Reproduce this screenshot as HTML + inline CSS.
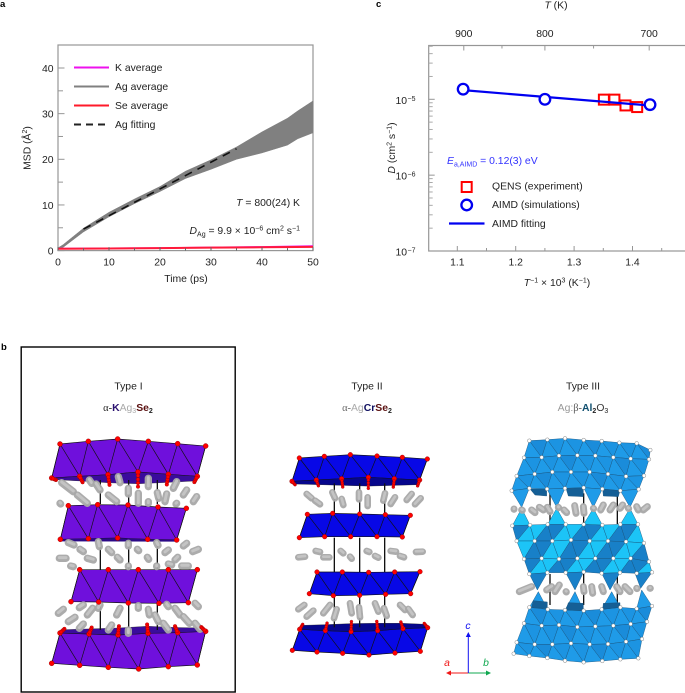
<!DOCTYPE html>
<html lang="en">
<head>
<meta charset="utf-8">
<title>MSD, diffusivity and crystal structures</title>
<style>
html,body{margin:0;padding:0;background:#fff;width:685px;height:693px;overflow:hidden}
svg{display:block;font-family:"Liberation Sans",sans-serif;font-size:10.4px;fill:#222}
text{stroke:none}
.it{font-style:italic}
.b{font-weight:bold}
</style>
</head>
<body>
<svg id="root" width="685" height="693" viewBox="0 0 685 693" xmlns="http://www.w3.org/2000/svg">
  <text x="0" y="7" class="b" font-size="9.5" fill="#000">a</text>
  <text x="1" y="350" class="b" font-size="9.5" fill="#000">b</text>
  <text x="376" y="7" class="b" font-size="9.5" fill="#000">c</text>

  <g id="panelA"></g>
  <text x="186" y="282" text-anchor="middle">Time (ps)</text>
  <text transform="translate(30.5,148) rotate(-90)" text-anchor="middle">MSD (Å<tspan dy="-3.5" font-size="7">2</tspan><tspan dy="3.5">)</tspan></text>
  <text x="300" y="206" text-anchor="end"><tspan class="it">T</tspan> = 800(24) K</text>
  <text x="300" y="234" text-anchor="end"><tspan class="it">D</tspan><tspan dy="2.5" font-size="7">Ag</tspan><tspan dy="-2.5"> = 9.9 × 10</tspan><tspan dy="-3.5" font-size="7">−6</tspan><tspan dy="3.5"> cm</tspan><tspan dy="-3.5" font-size="7">2</tspan><tspan dy="3.5"> s</tspan><tspan dy="-3.5" font-size="7">−1</tspan></text>

  <g id="legendA">
    <line x1="74" x2="109" y1="67.5" y2="67.5" stroke="#ee11ee" stroke-width="1.9"/>
    <text x="115" y="71">K average</text>
    <line x1="74" x2="109" y1="86.5" y2="86.5" stroke="#808080" stroke-width="1.9"/>
    <text x="115" y="90">Ag average</text>
    <line x1="74" x2="109" y1="105.5" y2="105.5" stroke="#ff1a2a" stroke-width="1.9"/>
    <text x="115" y="109">Se average</text>
    <line x1="74" x2="109" y1="124.5" y2="124.5" stroke="#222" stroke-width="1.9" stroke-dasharray="7 5"/>
    <text x="115" y="128">Ag fitting</text>
  </g>

  <g id="panelC"></g>
  <text x="556" y="8.5" text-anchor="middle"><tspan class="it">T</tspan> (K)</text>
  <text x="557" y="286" text-anchor="middle"><tspan class="it">T</tspan><tspan dy="-3.5" font-size="7">−1</tspan><tspan dy="3.5"> × 10</tspan><tspan dy="-3.5" font-size="7">3</tspan><tspan dy="3.5"> (K</tspan><tspan dy="-3.5" font-size="7">−1</tspan><tspan dy="3.5">)</tspan></text>
  <text transform="translate(395,148) rotate(-90)" text-anchor="middle"><tspan class="it">D</tspan> (cm<tspan dy="-3.5" font-size="7">2</tspan><tspan dy="3.5"> s</tspan><tspan dy="-3.5" font-size="7">−1</tspan><tspan dy="3.5">)</tspan></text>
  <text x="447" y="164" fill="#3333ff" style="fill:#3333ff"><tspan class="it">E</tspan><tspan dy="2.5" font-size="7">a,AIMD</tspan><tspan dy="-2.5"> = 0.12(3) eV</tspan></text>
  <g>
    <rect x="461.7" y="182" width="10" height="10" fill="none" stroke="#f00" stroke-width="2"/>
    <text x="492" y="189.5">QENS (experiment)</text>
    <circle cx="466.7" cy="205" r="5.3" fill="#fff" stroke="#0000f0" stroke-width="2.3"/>
    <text x="492" y="208">AIMD (simulations)</text>
    <line x1="449" x2="484.5" y1="223.5" y2="223.5" stroke="#0000f0" stroke-width="2.2"/>
    <text x="492" y="227">AIMD fitting</text>
  </g>

  <rect x="21.2" y="347" width="214" height="345" fill="none" stroke="#000" stroke-width="1.4"/>
  <text x="128.5" y="389.5" text-anchor="middle">Type I</text>
  <text x="128" y="411" text-anchor="middle"><tspan font-family="Liberation Serif">α-</tspan><tspan class="b" fill="#2a1070" style="fill:#2a1070">K</tspan><tspan fill="#aaa" style="fill:#aaa">Ag</tspan><tspan fill="#aaa" style="fill:#aaa" dy="2" font-size="7">3</tspan><tspan class="b" dy="-2" fill="#5a1010" style="fill:#5a1010">Se</tspan><tspan class="b" dy="2" font-size="7" fill="#222">2</tspan></text>
  <text x="367" y="389.5" text-anchor="middle">Type II</text>
  <text x="367" y="411" text-anchor="middle"><tspan font-family="Liberation Serif" fill="#666" style="fill:#666">α-</tspan><tspan fill="#aaa" style="fill:#aaa">Ag</tspan><tspan class="b" fill="#101060" style="fill:#101060">Cr</tspan><tspan class="b" fill="#5a1010" style="fill:#5a1010">Se</tspan><tspan class="b" dy="2" font-size="7">2</tspan></text>
  <text x="583" y="389.5" text-anchor="middle">Type III</text>
  <text x="583" y="411" text-anchor="middle"><tspan fill="#999" style="fill:#999">Ag:</tspan><tspan font-family="Liberation Serif" fill="#555" style="fill:#555">β-</tspan><tspan class="b" fill="#105070" style="fill:#105070">Al</tspan><tspan class="b" dy="2" font-size="7">2</tspan><tspan dy="-2" fill="#333" style="fill:#333">O</tspan><tspan dy="2" font-size="7">3</tspan></text>

  <g id="typeI" transform="translate(0,340) scale(.33333)"></g>
  <g id="typeII" transform="translate(270,370) scale(.33333)"></g>
  <g id="typeIII" transform="translate(440,370) scale(.33333)"></g>

  <g>
    <line x1="468.3" y1="673" x2="449" y2="673" stroke="#f01818" stroke-width="1"/>
    <polygon points="446,673 451,670.5 451,675.5" fill="#f01818"/>
    <line x1="468.3" y1="673" x2="488" y2="673" stroke="#10a850" stroke-width="1"/>
    <polygon points="491,673 486,670.5 486,675.5" fill="#10a850"/>
    <line x1="468.3" y1="673" x2="468.3" y2="635" stroke="#1010f0" stroke-width="1"/>
    <polygon points="468.3,632 465.8,637 470.8,637" fill="#1010f0"/>
    <text x="447" y="666" text-anchor="middle" class="it" fill="#f01818" style="fill:#f01818">a</text>
    <text x="486" y="666" text-anchor="middle" class="it" fill="#10a850" style="fill:#10a850">b</text>
    <text x="468" y="629" text-anchor="middle" class="it" fill="#1010f0" style="fill:#1010f0">c</text>
  </g>
</svg>

<script>
/* ---------- panel a data ---------- */
var timeValues   = [0, 1, 5, 10, 15, 20, 25, 30, 35, 40, 45, 47, 50];
var agUpper      = [0.6, 1.3, 4.9, 8.4, 11.3, 14.05, 17.4, 19.9, 22.7, 26.0, 29.0, 30.6, 32.8];
var agLower      = [0.2, 0.7, 4.1, 7.4, 10.3, 12.95, 15.8, 17.8, 20.0, 21.4, 23.1, 24.5, 25.8];
var seTime       = [0, 1, 10, 20, 30, 40, 50];
var seValues     = [0.4, 0.42, 0.46, 0.55, 0.65, 0.72, 0.82];
var kValues      = [0.4, 0.45, 0.5, 0.58, 0.7, 0.8, 0.98];
var fitTime      = [5, 35];
var fitMsd       = [4.7, 22.3];
var msdXTicks    = [0, 10, 20, 30, 40, 50];
var msdXMinor    = [5, 15, 25, 35, 45];
var msdYTicks    = [0, 10, 20, 30, 40];
var msdYMinor    = [5, 15, 25, 35];

/* ---------- panel c data ---------- */
var qensInverseT  = [1.351, 1.369, 1.388, 1.408];
var qensD         = [0.99e-5, 0.99e-5, 0.83e-5, 0.79e-5];
var aimdInverseT  = [1.11, 1.25, 1.43];
var aimdD         = [1.36e-5, 1.0e-5, 0.85e-5];
var fitInverseT   = [1.11, 1.42];
var fitD          = [1.32e-5, 0.84e-5];
var invXTicks     = [1.1, 1.2, 1.3, 1.4];
var invXMinor     = [1.15, 1.25, 1.35, 1.45];
var topTempTicks  = [900, 800, 700];
var topTempMinor  = [850, 750];
var logDecades    = [-7, -6, -5];
var logMinorMults = [2, 3, 4, 5, 6, 7, 8, 9];

var NS = 'http://www.w3.org/2000/svg';
function mk(tag, attrs, parent) {
  var n = document.createElementNS(NS, tag);
  for (var k in attrs) n.setAttribute(k, attrs[k]);
  parent.appendChild(n);
  return n;
}
var gridColor = '#969696';

/* panel a */
(function () {
  var g = document.getElementById('panelA');
  var L = 58, R = 313, T = 45, B = 250.6;
  function x(v) { return L + (R - L) * v / 50; }
  function y(v) { return B - v * 4.565; }
  function pts(xs, ys) { return xs.map(function (d, i) { return x(d).toFixed(1) + ',' + y(ys[i]).toFixed(1); }).join(' '); }

  var frame = mk('rect', {x: L, y: T, width: R - L, height: B - T, fill: '#fff', stroke: gridColor, 'stroke-width': 1.2}, g);
  
  

  var band = mk('polygon', {points: pts(timeValues, agUpper) + ' ' + pts(timeValues.slice().reverse(), agLower.slice().reverse()), fill: '#808080', stroke: '#808080', 'stroke-width': .5}, g);
  
  

  var k = mk('polyline', {points: pts(seTime, kValues), fill: 'none', stroke: '#ee11ee', 'stroke-width': 1.6}, g);
  
  

  var se = mk('polyline', {points: pts(seTime, seValues), fill: 'none', stroke: '#ff1a3a', 'stroke-width': 2}, g);
  
  

  var fit = mk('polyline', {points: pts(fitTime, fitMsd), fill: 'none', stroke: '#111', 'stroke-width': 1.6, 'stroke-dasharray': '8 6.3'}, g);
  
  

  msdXTicks.forEach(function (v) {
    var t = mk('line', {x1: x(v), x2: x(v), y1: B, y2: B - 3.5, stroke: '#666'}, g);
    
    
    var l = mk('text', {x: x(v), y: 265.5, 'text-anchor': 'middle'}, g);
    l.textContent = v;
    
    
  });
  msdXMinor.forEach(function (v) {
    var t = mk('line', {x1: x(v), x2: x(v), y1: B, y2: B - 2.5, stroke: '#666'}, g);
    
    
  });
  msdYTicks.forEach(function (v) {
    var t = mk('line', {x1: L, x2: L + 6.5, y1: y(v), y2: y(v), stroke: gridColor}, g);
    
    
    var l = mk('text', {x: 53.5, y: y(v) + 3.8, 'text-anchor': 'end'}, g);
    l.textContent = v;
    
    
  });
  msdYMinor.forEach(function (v) {
    var t = mk('line', {x1: L, x2: L + 5, y1: y(v), y2: y(v), stroke: gridColor}, g);
    
    
  });
})();

/* panel c */
(function () {
  var g = document.getElementById('panelC');
  var L = 428.7, R = 685, T = 45.5, B = 251;
  function x(v) { return 457.3 + (v - 1.1) * 584; }
  function y(v) { return B - (Math.log10(v) + 7) * 75.85; }

  var frame = mk('rect', {x: L, y: T, width: R - L + 3, height: B - T, fill: '#fff', stroke: gridColor, 'stroke-width': 1.2}, g);
  
  

  invXTicks.forEach(function (v) {
    var t = mk('line', {x1: x(v), x2: x(v), y1: B, y2: B - 5, stroke: gridColor}, g);
    
    
    var l = mk('text', {x: x(v), y: 265.5, 'text-anchor': 'middle'}, g);
    l.textContent = v.toFixed(1);
    
    
  });
  invXMinor.forEach(function (v) {
    var t = mk('line', {x1: x(v), x2: x(v), y1: B, y2: B - 3, stroke: gridColor}, g);
    
    
  });
  topTempTicks.forEach(function (v) {
    var px = x(1000 / v);
    var t = mk('line', {x1: px, x2: px, y1: T, y2: T + 5, stroke: gridColor}, g);
    
    
    var l = mk('text', {x: px, y: 37, 'text-anchor': 'middle'}, g);
    l.textContent = v;
    
    
  });
  topTempMinor.forEach(function (v) {
    var px = x(1000 / v);
    var t = mk('line', {x1: px, x2: px, y1: T, y2: T + 3, stroke: gridColor}, g);
    
    
  });
  logDecades.forEach(function (d) {
    var py = y(Math.pow(10, d));
    var t = mk('line', {x1: L, x2: L + 6, y1: py, y2: py, stroke: gridColor}, g);
    
    
    var l = mk('text', {x: 407, y: py + 4.5, 'text-anchor': 'end'}, g);
    l.textContent = '10';
    
    
    var s = mk('text', {x: 407.5, y: py + 1.5, 'font-size': 7}, g);
    s.textContent = '−' + Math.abs(d);
    
    
    logMinorMults.forEach(function (m) {
      var v = m * Math.pow(10, d), p = y(v);
      if (p < T) return;
      var mt = mk('line', {x1: L, x2: L + 4, y1: p, y2: p, stroke: '#aaa'}, g);
      
      
    });
  });

  qensInverseT.forEach(function (v, i) {
    var s = mk('rect', {x: x(v) - 5, y: y(qensD[i]) - 5, width: 10, height: 10, fill: '#fff', stroke: '#f00', 'stroke-width': 2}, g);
    
    
  });
  var fit = mk('line', {x1: x(fitInverseT[0]), y1: y(fitD[0]), x2: x(fitInverseT[1]), y2: y(fitD[1]), stroke: '#0000f0', 'stroke-width': 2.2}, g);
  
  
  aimdInverseT.forEach(function (v, i) {
    var c = mk('circle', {cx: x(v), cy: y(aimdD[i]), r: 5.3, fill: '#fff', stroke: '#0000f0', 'stroke-width': 2.3}, g);
    
    
  });
})();

/* ---------- crystal structures (zoomed-crop coordinates) ---------- */
function drawSheet(g, top, bot, fill) {
  var out = top.concat(bot.slice().reverse()).map(function (p) { return p.join(','); }).join(' ');
  var face = mk('polygon', {points: out, fill: fill, stroke: '#111', 'stroke-width': 2}, g);
  
  
  var d = '';
  top.forEach(function (p, i) {
    if (bot[i]) d += 'M' + p + 'L' + bot[i];
    if (bot[i + 1]) d += 'M' + p + 'L' + bot[i + 1];
  });
  var edges = mk('path', {d: d, fill: 'none', stroke: '#111', 'stroke-width': 2}, g);
  
  
}
/* perspective depth of a sheet edge: offsets shrink away from the centre column */
function depthOffset(p, d) {
  var off = Math.abs(p[0] - d.cx);
  return [(d.cx - p[0]) * d.kx, d.sign * Math.max(d.dy - off * d.fall, 6)];
}
function drawBand(g, row, d, fill) {
  var far = row.map(function (p) {
    var o = depthOffset(p, d);
    return [p[0] + o[0] * .8, p[1] + o[1] * .8];
  });
  var pts = row.concat(far.reverse()).map(function (q) { return q.join(','); }).join(' ');
  var b = mk('polygon', {points: pts, fill: fill, stroke: '#111', 'stroke-width': 1}, g);
  
  
}
function drawDepthDots(g, row, d, r) {
  row.forEach(function (p) {
    var o = depthOffset(p, d);
    for (var i = 4; i >= 1; i--) {
      var c = mk('circle', {cx: p[0] + o[0] * i / 4, cy: p[1] + o[1] * i / 4, r: r, fill: '#f00', stroke: '#800', 'stroke-width': 1}, g);
      
      
    }
  });
}
function drawBonds(g, xs, spans) {
  xs.forEach(function (x) {
    spans.forEach(function (s) {
      var l = mk('line', {x1: x, x2: x, y1: s[0], y2: s[1], stroke: '#111', 'stroke-width': 4}, g);
      
      
    });
  });
}
function drawAtoms(g, list, w) {
  list.forEach(function (c) {
    var a = mk('line', {x1: c[0], y1: c[1], x2: c[2], y2: c[3], stroke: '#a8a8a8', 'stroke-width': w, 'stroke-linecap': 'round', opacity: .95}, g);
    
    
    var h = mk('line', {x1: c[0], y1: c[1] - w * .1, x2: c[2], y2: c[3] - w * .1, stroke: '#c4c4c4', 'stroke-width': w * .4, 'stroke-linecap': 'round'}, g);
    
    
  });
}
function drawDots(g, row, fill, stroke, r) {
  row.forEach(function (p) {
    var c = mk('circle', {cx: p[0], cy: p[1], r: r, fill: fill, stroke: stroke, 'stroke-width': 1.2}, g);
    
    
  });
}

/* Type I */
var t1Layers = [
  {t: [[180,312],[265,304],[353,297],[445,304],[533,311],[617,318]], b: [[155,414],[239,409],[324,404],[414,396],[505,403],[592,409]]},
  {t: [[205,497],[293,494],[384,495],[474,501],[559,505]], b: [[181,598],[265,596],[353,594],[443,598],[530,600]]},
  {t: [[239,689],[325,689],[415,689],[505,689],[592,689]], b: [[213,785],[296,786],[385,789],[477,790],[565,788]]},
  {t: [[180,879],[267,882],[354,885],[444,880],[533,878],[617,874]], b: [[155,970],[239,976],[325,982],[416,987],[505,980],[592,975]]}
];
var t1Atoms = [[185,428,220,455],[232,465,262,490],[180,490,182,492],[268,420,275,430],[288,432,300,450],[325,465,350,485],[355,410,360,428],[385,445,385,462],[415,460,415,490],[445,415,445,440],[445,485,445,490],[472,458,476,475],[500,462,495,485],[530,425,520,445],[560,450,550,465],[590,470,580,485],[530,490,528,492],
 [205,608,222,615],[240,628,250,635],[262,655,280,660],[178,655,198,655],[212,678,220,680],[295,605,298,620],[325,628,335,638],[352,652,360,660],[385,610,385,618],[385,678,385,680],[412,628,416,632],[442,652,446,658],[470,608,474,616],[470,678,470,680],[505,630,495,638],[533,652,525,660],[560,610,550,618],[595,628,578,635],[565,678,545,678],[505,672,515,675],
 [190,808,175,820],[225,832,205,845],[250,795,238,803],[278,805,262,825],[250,852,238,865],[300,795,295,805],[360,805,350,825],[335,855,325,870],[385,870,385,880],[415,797,415,805],[445,808,448,825],[465,825,475,845],[490,850,505,870],[500,793,505,800],[525,805,540,825],[550,830,568,850],[585,850,600,868],[585,790,595,800]];
/* Type II */
var t2Layers = [
  {t: [[88,264],[163,259],[241,254],[321,258],[397,262],[472,267]], b: [[66,334],[139,330],[215,326],[295,322],[373,326],[449,330]]},
  {t: [[112,433],[188,430],[269,432],[346,434],[421,436]], b: [[88,503],[164,500],[242,500],[321,500],[397,501]]},
  {t: [[141,606],[217,606],[296,607],[374,606],[450,605]], b: [[118,671],[190,677],[269,676],[347,673],[422,671]]},
  {t: [[89,778],[166,782],[243,785],[323,782],[399,776],[473,773]], b: [[67,841],[141,846],[218,850],[297,855],[375,849],[451,844]]}
];
var t2Atoms = [[110,372,125,385],[135,392,150,403],[187,367,195,385],[215,387,220,405],[267,367,267,388],[293,382,293,408],[345,370,340,392],[375,382,362,402],[425,372,410,390],[452,385,435,403],
 [85,562,105,560],[137,543,150,546],[160,562,178,562],[212,543,220,550],[240,560,245,566],[290,543,298,546],[315,558,325,563],[362,543,378,545],[390,558,402,562],[438,546,458,545],
 [85,718,103,705],[110,740,130,722],[160,730,180,705],[192,745,200,718],[240,700,245,730],[267,712,270,742],[315,700,325,725],[342,715,350,738],[390,705,405,720],[415,717,428,735]];
/* Type III */
var t3Rows = [
  [[268,212],[322,209],[375,205],[431,210],[485,213],[538,218],[590,220],[631,240]],
  [[252,263],[305,262],[357,257],[412,256],[466,257],[520,262],[572,266],[627,268]],
  [[230,318],[284,312],[337,306],[393,306],[449,306],[504,312],[558,319],[612,317]],
  [[215,362],[268,355],[321,357],[375,355],[431,353],[487,357],[541,362],[596,358]],
  [[217,467],[270,465],[323,463],[377,463],[431,463],[487,465],[541,463],[594,463]],
  [[230,513],[284,513],[337,513],[393,510],[449,513],[504,513],[558,515],[612,519]],
  [[252,567],[305,565],[357,567],[412,565],[466,565],[520,565],[572,565],[627,575]],
  [[268,612],[322,608],[377,608],[431,606],[485,610],[540,608],[590,610],[636,607]],
  [[268,712],[323,718],[375,720],[431,722],[485,718],[541,712],[590,716],[636,708]],
  [[252,760],[305,767],[357,765],[412,771],[466,769],[520,767],[572,762],[621,755]],
  [[230,817],[284,823],[337,823],[393,820],[449,823],[504,822],[558,815],[606,807]],
  [[221,851],[268,858],[322,864],[375,872],[431,877],[487,873],[541,868],[595,865]]
];
var t3Strips = [[0,1,'a'],[1,2,'a'],[2,3,'a'],[4,5,'m'],[5,6,'m'],[6,7,'m'],[8,9,'a'],[9,10,'a'],[10,11,'a']];
var t3Hourglass = [
  {p: [[215,362],[268,355],[245,412]], c: '#1f9be8'},
  {p: [[321,357],[375,355],[350,412]], c: '#1f9be8'},
  {p: [[431,353],[487,357],[460,412]], c: '#1f9be8'},
  {p: [[541,362],[596,358],[570,412]], c: '#1f9be8'},
  {p: [[217,467],[270,465],[245,415]], c: '#1cc4f7'},
  {p: [[323,463],[377,463],[350,415]], c: '#1cc4f7'},
  {p: [[431,463],[487,465],[460,415]], c: '#1cc4f7'},
  {p: [[541,463],[594,463],[570,415]], c: '#1cc4f7'},
  {p: [[268,612],[322,608],[292,660]], c: '#1880c8'},
  {p: [[377,608],[431,606],[405,660]], c: '#1880c8'},
  {p: [[485,610],[540,608],[510,660]], c: '#1880c8'},
  {p: [[585,610],[636,607],[602,655]], c: '#1880c8'},
  {p: [[268,712],[323,718],[295,665]], c: '#1f9be8'},
  {p: [[375,720],[431,722],[405,665]], c: '#1f9be8'},
  {p: [[485,718],[541,712],[515,665]], c: '#1f9be8'},
  {p: [[590,716],[636,708],[605,660]], c: '#1f9be8'},
  {p: [[270,357],[320,357],[320,378],[285,375]], c: '#155f96'},
  {p: [[378,355],[430,353],[430,380],[385,378]], c: '#155f96'},
  {p: [[488,357],[540,362],[535,380],[490,378]], c: '#155f96'},
  {p: [[275,712],[322,716],[322,696],[280,692]], c: '#155f96'},
  {p: [[378,720],[430,722],[430,700],[385,698]], c: '#155f96'},
  {p: [[488,718],[540,712],[540,698],[490,700]], c: '#155f96'}
];
var t3Atoms = [[222,417,222,418],[245,420,247,421],[275,420,285,428],[298,412,310,420],[322,412,330,425],[355,412,356,413],[372,420,380,428],[404,407,408,430],[430,410,432,430],[460,415,461,416],[482,420,490,405],[510,420,520,405],[540,415,548,405],[565,415,566,416],[590,410,595,420],[610,420,622,410],
 [238,665,275,650],[320,660,335,650],[345,665,358,645],[378,665,379,666],[430,650,432,665],[455,650,458,670],[485,650,490,665],[530,650,540,665],[555,650,570,665],[590,655,591,656],[630,655,631,655]];

(function () {
  var g1 = document.getElementById('typeI');
  var d1a = {cx: 414, dy: 44, fall: .15, kx: .05, sign: 1};
  var d1b = {cx: 400, dy: 30, fall: .08, kx: .06, sign: -1};
  t1Layers.forEach(function (l) { drawSheet(g1, l.t, l.b, '#6f10dc'); });
  drawBand(g1, t1Layers[0].b, d1a, '#3a0c9c');
  drawBand(g1, t1Layers[3].t, d1b, '#3a0c9c');
  var thin = mk('polygon', {points: t1Layers[1].b.concat([[530,605],[181,604]]).join(' '), fill: '#2c0a86'}, g1);
  
  
  drawBonds(g1, [301,386,472], [[420,492],[600,690],[790,870]]);
  drawAtoms(g1, t1Atoms, 22);
  t1Layers.forEach(function (l) { drawDots(g1, l.t, '#f00', '#800', 7.5); drawDots(g1, l.b, '#f00', '#800', 7.5); });
  drawDepthDots(g1, t1Layers[0].b, d1a, 5.5);
  drawDepthDots(g1, t1Layers[3].t, d1b, 5.5);

  var g2 = document.getElementById('typeII');
  var d2a = {cx: 295, dy: 33, fall: .1, kx: .04, sign: 1};
  var d2b = {cx: 270, dy: 33, fall: .1, kx: .05, sign: -1};
  t2Layers.forEach(function (l) { drawSheet(g2, l.t, l.b, '#0808e6'); });
  drawBand(g2, t2Layers[0].b, d2a, '#06068c');
  drawBand(g2, t2Layers[3].t, d2b, '#06068c');
  drawBonds(g2, [193,269,344], [[340,433],[503,606],[676,772]]);
  drawAtoms(g2, t2Atoms, 20);
  t2Layers.forEach(function (l) { drawDots(g2, l.t, '#f00', '#800', 7); drawDots(g2, l.b, '#f00', '#800', 7); });
  drawDepthDots(g2, t2Layers[0].b, d2a, 4.5);
  drawDepthDots(g2, t2Layers[3].t, d2b, 4.5);

  var g3 = document.getElementById('typeIII');
  drawBonds(g3, [330,431,532], [[370,462],[612,705]]);
  t3Strips.forEach(function (s, si) {
    var a = t3Rows[s[0]], b = t3Rows[s[1]];
    var shiftRight = b[0][0] > a[0][0];
    for (var i = 0; i < a.length - 1; i++) {
      var c1, c2;
      if (s[2] === 'm') {
        c1 = (i + si) % 2 ? '#1880c8' : '#1cc4f7';
        c2 = (i + si) % 2 ? '#1cc4f7' : '#1880c8';
      } else {
        c1 = '#1f9be8';
        c2 = (i + si) % 3 === 0 ? '#1a8cda' : '#1c94e2';
      }
      var tA = shiftRight ? [a[i], b[i], a[i + 1]] : [a[i], b[i], b[i + 1]];
      var tB = shiftRight ? [b[i], b[i + 1], a[i + 1]] : [a[i], a[i + 1], b[i + 1]];
      var tri1 = mk('polygon', {points: tA.join(' '), fill: c1, stroke: '#16507a', 'stroke-width': 1.2}, g3);
      
      
      var tri2 = mk('polygon', {points: tB.join(' '), fill: c2, stroke: '#16507a', 'stroke-width': 1.2}, g3);
      
      
    }
  });
  t3Hourglass.forEach(function (h) {
    var tri = mk('polygon', {points: h.p.join(' '), fill: h.c, stroke: '#16507a', 'stroke-width': 1.2}, g3);
    
    
  });
  drawAtoms(g3, t3Atoms, 21);
  t3Rows.forEach(function (r) { drawDots(g3, r, '#fff', '#666', 5.5); });
})();
</script>
</body>
</html>
